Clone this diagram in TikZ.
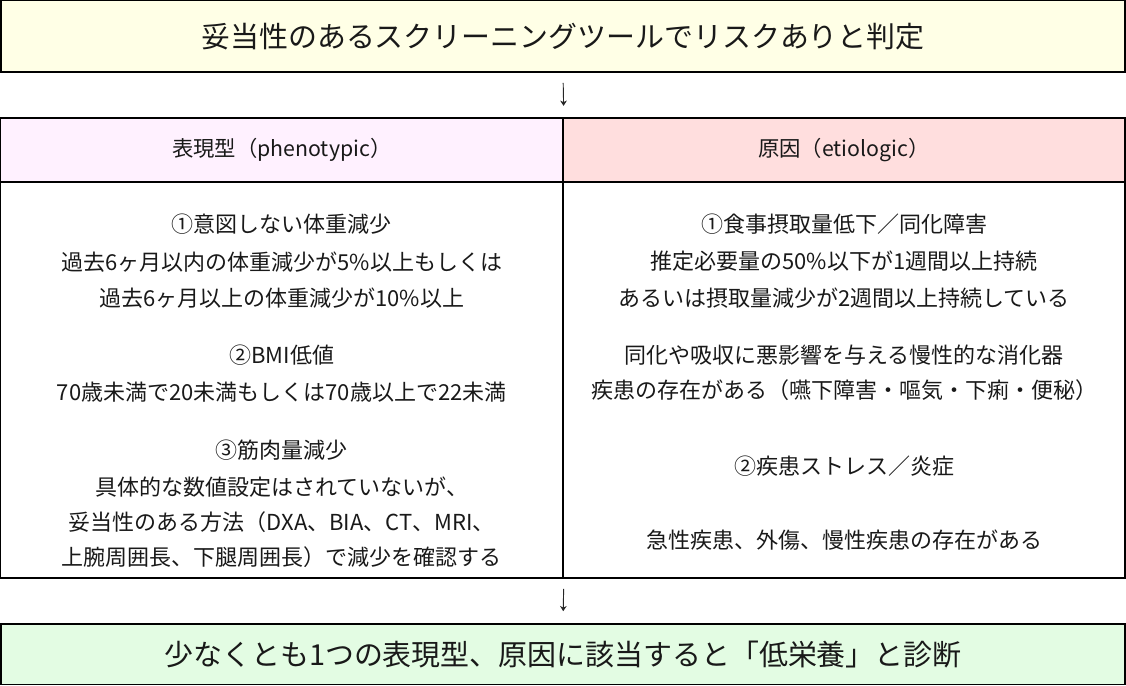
\documentclass[tikz,border=0pt]{standalone}
\usepackage{fontspec}
\setmainfont{Noto Sans CJK JP}
\usepackage{tikz}
\usetikzlibrary{arrows.meta}
\definecolor{topfill}{HTML}{FFFFE6}
\definecolor{phenofill}{HTML}{FFF1FF}
\definecolor{etiofill}{HTML}{FFDEDE}
\definecolor{resultfill}{HTML}{E3FCE3}
\begin{document}
\begin{tikzpicture}[x=0.75pt,y=-0.75pt,
  every node/.style={inner sep=0pt,text=black!90},
  box/.style={draw=black,line width=1.2pt},
  bigtxt/.style={font=\fontsize{21.7}{26}\selectfont},
  hdrtxt/.style={font=\fontsize{16}{19}\selectfont},
  txt/.style={font=\fontsize{16.5}{20}\selectfont,text height=14.5pt,text depth=2pt},
  darrow/.style={draw=black!85,line width=0.7pt,-{Stealth[length=4pt,width=5pt]}}]
\useasboundingbox (0,0) rectangle (1126,685);
\node [box,fill=topfill,minimum width=843.4pt,minimum height=53.6pt,bigtxt] (top) at (563,36.3) {妥当性のあるスクリーニングツールでリスクありと判定};
\node [box,fill=phenofill,minimum width=421.9pt,minimum height=48pt,hdrtxt] (hdrL) at (281.75,150) {表現型（phenotypic）};
\node [box,fill=etiofill,minimum width=421.5pt,minimum height=48pt,hdrtxt] (hdrR) at (844,150) {原因（etiologic）};
\node [box,minimum width=421.9pt,minimum height=297pt] (bodyL) at (281.75,380) {};
\node [box,minimum width=421.5pt,minimum height=297pt] (bodyR) at (844,380) {};
\node [box,fill=resultfill,minimum width=843.4pt,minimum height=45.4pt,bigtxt] (bottom) at (563,654.3) {少なくとも1つの表現型、原因に該当すると「低栄養」と診断};
\node [txt] (lossA) at (281.75,224) {①意図しない体重減少};
\node [txt] (lossB) at (281.75,262) {過去6ヶ月以内の体重減少が5\%以上もしくは};
\node [txt] (lossC) at (281.75,298) {過去6ヶ月以上の体重減少が10\%以上};
\node [txt] (bmiA) at (281.75,355) {②BMI低値};
\node [txt] (bmiB) at (281.75,392) {70歳未満で20未満もしくは70歳以上で22未満};
\node [txt] (muscA) at (281.75,450) {③筋肉量減少};
\node [txt] (muscB) at (281.75,487) {具体的な数値設定はされていないが、};
\node [txt] (muscC) at (281.75,522) {妥当性のある方法（DXA、BIA、CT、MRI、};
\node [txt] (muscD) at (281.75,557) {上腕周囲長、下腿周囲長）で減少を確認する};
\node [txt] (intakeA) at (844,224) {①食事摂取量低下／同化障害};
\node [txt] (intakeB) at (844,261) {推定必要量の50\%以下が1週間以上持続};
\node [txt] (intakeC) at (844,298) {あるいは摂取量減少が2週間以上持続している};
\node [txt] (intakeD) at (844,355) {同化や吸収に悪影響を与える慢性的な消化器};
\node [txt] (intakeE) at (844,390) {疾患の存在がある（嚥下障害・嘔気・下痢・便秘）};
\node [txt] (inflA) at (844,466) {②疾患ストレス／炎症};
\node [txt] (inflB) at (844,540) {急性疾患、外傷、慢性疾患の存在がある};
\draw [darrow,shorten <=7.5pt,shorten >=8.5pt] (top.south) -- (hdrL.north east);
\draw [darrow,shorten <=7.5pt,shorten >=9pt] (bodyL.south east) -- (bottom.north);
\end{tikzpicture}
\end{document}
